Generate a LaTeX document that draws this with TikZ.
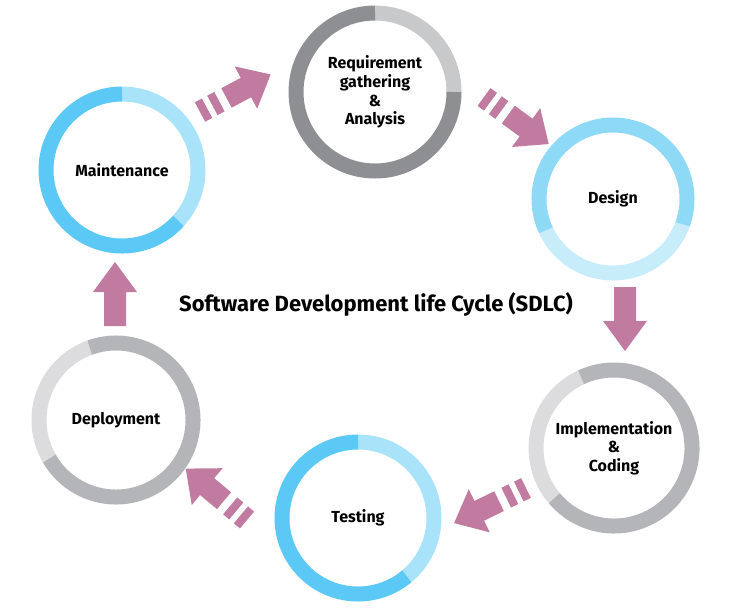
\documentclass[tikz,border=0pt]{standalone}
\usepackage{fontspec}
\setmainfont{Fira Sans}
\usepackage{tikz}

\definecolor{ringdark}{HTML}{8E8F93}
\definecolor{ringlight}{HTML}{C8C9CB}
\definecolor{ringgray}{HTML}{B4B5B8}
\definecolor{ringpale}{HTML}{DCDCDE}
\definecolor{ringblue}{HTML}{5BC8F5}
\definecolor{ringsky}{HTML}{A9E3FA}
\definecolor{ringmid}{HTML}{8EDAF6}
\definecolor{ringice}{HTML}{C7EDFB}
\definecolor{arrowpink}{HTML}{C27BA0}

% ring: centre node, radius, split angle a to b in first colour, rest in second
\newcommand{\sdlcring}[6]{%
  \draw[ring,#5] ([shift={(#3:#2)}]#1) arc (#3:#4:#2);
  \draw[ring,#6] ([shift={(#4:#2)}]#1) arc (#4:#3+360:#2);
}
% arrow with two bars in front, at (x,y) turned by angle
\newcommand{\sdlcdash}[3]{%
  \begin{scope}[shift={(#1,#2)},rotate=#3]
    \fill[arrowpink] (0,-11) rectangle (8,11);
    \fill[arrowpink] (14,-11) rectangle (22,11);
    \fill[arrowpink] (30,-11) -- (52,-11) -- (52,-24) -- (80,0) -- (52,24) -- (52,11) -- (30,11) -- cycle;
  \end{scope}}
% plain block arrow
\newcommand{\sdlcblock}[3]{%
  \begin{scope}[shift={(#1,#2)},rotate=#3]
    \fill[arrowpink] (0,-11) -- (34,-11) -- (34,-22) -- (64,0) -- (34,22) -- (34,11) -- (0,11) -- cycle;
  \end{scope}}

\begin{document}
\begin{tikzpicture}[x=0.75pt,y=0.75pt,yscale=-1,xscale=1,
  ring/.style={line width=11.25pt},
  stage/.style={font=\bfseries\large,align=center,inner sep=0.75pt}]
\useasboundingbox (0,0) rectangle (749,612);

\coordinate (req) at (375,92);
\coordinate (des) at (613,199);
\coordinate (imp) at (614,448);
\coordinate (tst) at (358,518);
\coordinate (dep) at (116,420);
\coordinate (mnt) at (122,170);

%Rings
\sdlcring{req}{79}{-90}{0}{ringlight}{ringdark}
\sdlcring{des}{74}{20}{155}{ringice}{ringmid}
\sdlcring{imp}{78}{140}{245}{ringpale}{ringgray}
\sdlcring{tst}{76}{-90}{50}{ringsky}{ringblue}
\sdlcring{dep}{77}{150}{250}{ringpale}{ringgray}
\sdlcring{mnt}{76}{-90}{42}{ringsky}{ringblue}

% Text Node
\node[stage] (reqtext) at (req) {Requirement\\gathering\\\&\\Analysis};
\node[stage] (destext) at (des) {Design};
\node[stage] (imptext) at (imp) {Implementation\\\&\\Coding};
\node[stage] (tsttext) at (tst) {Testing};
\node[stage] (deptext) at (dep) {Deployment};
\node[stage] (mnttext) at (mnt) {Maintenance};
\node[font=\bfseries\fontsize{16.5}{20}\selectfont,inner sep=0.75pt] (title) at (376,304) {Software Development life Cycle (SDLC)};

%Arrows
\sdlcdash{200}{112}{-28}
\sdlcdash{484}{97}{36}
\sdlcblock{625}{287}{90}
\sdlcdash{526}{488}{154}
\sdlcdash{247}{520}{-140}
\sdlcblock{115}{326}{-90}

\end{tikzpicture}
\end{document}
